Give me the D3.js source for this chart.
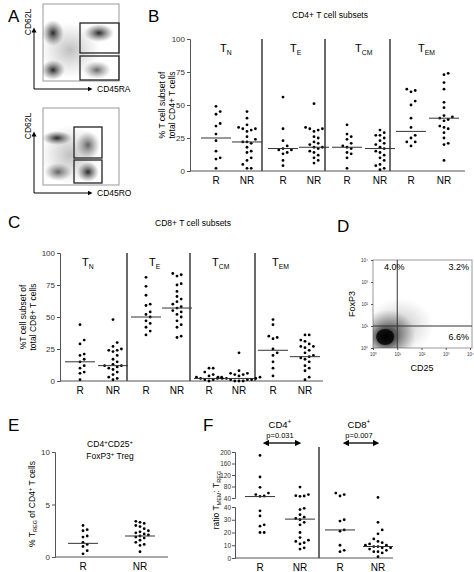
<!DOCTYPE html>
<html><head><meta charset="utf-8">
<script src="https://cdn.jsdelivr.net/npm/d3@7"></script>
<style>
body{margin:0;background:#fff}
svg{font-family:"Liberation Sans",Arial,sans-serif;display:block}
</style></head>
<body><svg id="fig" width="474" height="572"></svg>
<script>
// ---- data ----
let groups = ['R', 'NR'];
let subsets = [['T', 'N'], ['T', 'E'], ['T', 'CM'], ['T', 'EM']];
let pct_ticks = [0, 25, 50, 75, 100];

let cd4_values = [
    [[49,45,43,36,34,28,23,15,10,9,2], [45,40,35,33,32,32,31,30,26,24,22,22,21,18,15,14,10,8,5,2,2]],
    [[56,32,23,19,17,16,16,14,13,8,4], [51,33,32,32,31,30,26,25,22,21,20,18,18,17,15,14,12,10,8,6]],
    [[35,28,26,24,21,19,18,17,14,13,10,2], [31,29,27,27,25,23,21,20,18,17,15,14,12,10,8,5,4,2,1]],
    [[62,61,60,53,50,40,33,27,25,22,22,19], [74,73,67,62,52,48,42,41,40,39,38,34,33,32,29,25,21,20,8]]
];
let cd4_medians = [[25, 22], [17, 18], [18, 17], [30, 40]];

let cd8_values = [
    [[44,32,29,21,20,17,15,12,10,7,6,1], [48,30,27,25,24,24,23,20,17,15,13,12,12,11,10,9,7,5,3,2,1]],
    [[81,74,67,60,59,54,52,50,47,45,42,39,36], [84,83,82,76,75,70,66,64,62,60,58,57,55,54,52,50,47,44,42,35,34]],
    [[10,10,7,5,4,3,3,2,2,1,1,0], [22,8,6,6,5,5,4,3,3,2,2,2,1,1,1,0,0,0]],
    [[48,44,35,34,33,25,22,20,15,10,4], [36,36,32,31,29,27,27,26,24,22,20,19,18,17,15,12,10,8,3,1]]
];
let cd8_medians = [[15, 12], [50, 57], [2, 2], [24, 19]];

let treg_values = [[3.0,2.6,2.5,2.0,1.9,1.4,1.2,1.0,0.6,0.3], [3.4,3.3,3.2,3.0,2.9,2.7,2.5,2.4,2.3,2.2,2.1,2.0,1.9,1.8,1.6,1.4,1.2,1.1,0.5]];
let treg_medians = [1.3, 2.0];
let treg_ticks = [0, 5, 10];

let ratio_values = [
    [[188,113,77,57,52,47,46,37,33,26,25,20,20], [78,52,48,47,46,39,38,34,32,31,30,28,26,20,16,14,13,12,11,8,7]],
    [[57,52,47,30,29,22,21,10,6,5], [42,28,22,19,15,13,12,11,10,10,9,9,8,8,7,6,5,5,4,1]]
];
let ratio_medians = [[45, 30.5], [22, 9]];
let ratio_labels = ['CD4', 'CD8'];
let ratio_p = ['p=0.031', 'p=0.007'];
let ratio_low_ticks = [0, 10, 20, 30, 40];
let ratio_high_ticks = [40, 80, 120, 160, 200];

let facs_percent = ['4.0%', '3.2%', '6.6%'];
let facs_ticks = [0, 1, 2, 3, 4];

// ---- helpers ----
let svg = d3.select('#fig');
let defs = svg.append('defs');

defs.append('marker').attr('id', 'arr').attr('viewBox', '0 0 10 10')
    .attr('refX', 5).attr('refY', 5).attr('markerWidth', 5).attr('markerHeight', 5)
    .attr('orient', 'auto-start-reverse')
    .append('path').attr('d', 'M0,0L10,5L0,10z').attr('fill', '#000');

function letter (x, y, t) {
    svg.append('text').attr('x', x).attr('y', y).attr('font-size', 17).text(t);
}

function swarm (vals, cx, y) {
    // simple deterministic beeswarm, wide spacing like the prism plots
    let placed = [];
    vals.slice().sort((a, b) => a - b).forEach(v => {
        let py = y(v);
        for (let k = 0; k < 40; k++) {
            let off = (k % 2 ? 1 : -1) * Math.ceil(k / 2) * 4.2;
            let px = cx + off;
            if (placed.every(p => Math.abs(p[0] - px) >= 4 || Math.abs(p[1] - py) >= 4)) {
                placed.push([px, py]);
                break;
            }
        }
    });
    return placed;
}

function dots (g, vals, cx, y, med) {
    swarm(vals, cx, y).forEach(p => {
        g.append('circle').attr('cx', p[0]).attr('cy', p[1]).attr('r', 1.4).attr('fill', '#000');
    });
    g.append('line').attr('x1', cx - 15).attr('x2', cx + 15)
        .attr('y1', y(med)).attr('y2', y(med)).attr('stroke', '#333').attr('stroke-width', 1);
}

function sub (sel, base, s, size) {
    let t = sel.append('text').attr('font-size', size);
    t.append('tspan').text(base);
    t.append('tspan').attr('font-size', size * 0.62).attr('dy', 3).text(s);
    return t;
}

function style_axis (g) {
    g.selectAll('path,line').attr('stroke', '#555');
    g.selectAll('text').attr('font-size', 8).attr('fill', '#333');
}

// ---- subsets panels (B, C) ----
function subset_panel (o) {
    let g = svg.append('g');
    let y = d3.scaleLinear().domain([0, 100]).range([o.y0, o.y1]);
    g.append('text').attr('x', o.tx).attr('y', o.ty).attr('text-anchor', 'middle')
        .attr('font-size', 8.5).text(o.title);
    let ya = g.append('g').attr('transform', `translate(${o.x0},0)`)
        .call(d3.axisLeft(y).tickValues(pct_ticks).tickSize(3).tickPadding(2));
    style_axis(ya);
    g.append('line').attr('x1', o.x0).attr('x2', o.x1).attr('y1', o.y0).attr('y2', o.y0).attr('stroke', '#555');
    o.dividers.forEach(d => g.append('line').attr('x1', d).attr('x2', d)
        .attr('y1', o.y1).attr('y2', o.y0).attr('stroke', '#444').attr('stroke-width', 1.6));
    subsets.forEach((s, i) => {
        sub(g, s[0], s[1], 11).attr('x', o.sx[i]).attr('y', o.y1 + 13);
        groups.forEach((gr, j) => {
            let cx = o.cx[i * 2 + j];
            g.append('text').attr('x', cx).attr('y', o.y0 + 13).attr('text-anchor', 'middle')
                .attr('font-size', 10).text(gr);
            dots(g, o.values[i][j], cx, y, o.medians[i][j]);
        });
    });
    let cy = (o.y0 + o.y1) / 2;
    o.ylab.forEach((l, k) => g.append('text')
        .attr('transform', `translate(${o.yx + k * 10},${cy}) rotate(-90)`)
        .attr('text-anchor', 'middle').attr('font-size', 8.5).text(l));
}

letter(148, 22, 'B');
subset_panel({x0: 190, x1: 465, y0: 171, y1: 39, tx: 330, ty: 18, title: 'CD4+ T cell subsets',
    dividers: [262, 325, 390], sx: [220, 290, 355, 418],
    cx: [216, 247, 283, 314, 347, 380, 411, 444],
    values: cd4_values, medians: cd4_medians, yx: 165,
    ylab: ['% T cell subset of', 'total CD4+ T cells']});

letter(8, 228, 'C');
subset_panel({x0: 60, x1: 323, y0: 381, y1: 253, tx: 193, ty: 226, title: 'CD8+ T cell subsets',
    dividers: [127, 190, 255], sx: [82, 149, 212, 272],
    cx: [80, 113, 146, 177, 209, 239, 273, 305],
    values: cd8_values, medians: cd8_medians, yx: 26,
    ylab: ['%T cell subset of', 'total CD8+ T cells']});

// ---- panel A (flow plots) ----
function blob (id, op) {
    let gr = defs.append('radialGradient').attr('id', id);
    gr.append('stop').attr('offset', '0%').attr('stop-color', '#000').attr('stop-opacity', op);
    gr.append('stop').attr('offset', '50%').attr('stop-color', '#222').attr('stop-opacity', op * 0.5);
    gr.append('stop').attr('offset', '100%').attr('stop-color', '#444').attr('stop-opacity', 0);
}
blob('bd', 0.85);
blob('bm', 0.6);
blob('bl', 0.25);

let facs_a = [
    {box: [43, 4, 119, 81], gates: [[80, 23, 119, 53], [80, 56, 119, 80]], ax: 89, lab: 'CD45RA',
     pops: [[53, 33, 11, 13, 'bd'], [53, 70, 12, 10, 'bd'], [99, 33, 15, 9, 'bd'], [97, 70, 14, 9, 'bm'],
            [70, 50, 30, 28, 'bl']]},
    {box: [43, 108, 119, 185], gates: [[74, 127, 102, 158], [74, 160, 102, 183]], ax: 193, lab: 'CD45RO',
     pops: [[57, 138, 15, 7, 'bd'], [58, 172, 14, 9, 'bm'], [88, 145, 12, 14, 'bm'], [88, 172, 11, 10, 'bd'],
            [70, 155, 30, 30, 'bl']]}
];
letter(8, 22, 'A');
facs_a.forEach(f => {
    let g = svg.append('g');
    let b = f.box;
    g.append('rect').attr('x', b[0]).attr('y', b[1]).attr('width', b[2] - b[0]).attr('height', b[3] - b[1])
        .attr('fill', '#fff').attr('stroke', '#999');
    let cp = 'clip' + b[1];
    defs.append('clipPath').attr('id', cp).append('rect').attr('x', b[0]).attr('y', b[1])
        .attr('width', b[2] - b[0]).attr('height', b[3] - b[1]);
    let pg = g.append('g').attr('clip-path', `url(#${cp})`);
    f.pops.forEach(p => pg.append('ellipse').attr('cx', p[0]).attr('cy', p[1]).attr('rx', p[2]).attr('ry', p[3])
        .attr('fill', `url(#${p[4]})`));
    f.gates.forEach(q => g.append('rect').attr('x', q[0]).attr('y', q[1]).attr('width', q[2] - q[0])
        .attr('height', q[3] - q[1]).attr('fill', 'none').attr('stroke', '#222').attr('stroke-width', 1.3));
    g.append('path').attr('d', `M34,${f.ax}V${b[1] + 26}`).attr('stroke', '#000').attr('marker-end', 'url(#arr)');
    g.append('path').attr('d', `M34,${f.ax}H90`).attr('stroke', '#000').attr('marker-end', 'url(#arr)');
    g.append('text').attr('x', 97).attr('y', f.ax + 3).attr('font-size', 8.5).text(f.lab);
    g.append('text').attr('transform', `translate(31,${b[1] + 18}) rotate(-90)`).attr('text-anchor', 'middle')
        .attr('font-size', 8.5).text('CD62L');
});

// ---- panel D ----
letter(337, 232, 'D');
{
    let g = svg.append('g');
    let x = d3.scaleLinear().domain([0, 4]).range([373, 470]);
    let y = d3.scaleLinear().domain([0, 4]).range([348, 260]);
    g.append('rect').attr('x', 373).attr('y', 260).attr('width', 99).attr('height', 88)
        .attr('fill', '#fff').attr('stroke', '#999');
    defs.append('clipPath').attr('id', 'clipd').append('rect').attr('x', 373).attr('y', 260).attr('width', 99).attr('height', 88);
    let pg = g.append('g').attr('clip-path', 'url(#clipd)');
    pg.append('ellipse').attr('cx', x(1.1)).attr('cy', y(1.0)).attr('rx', 34).attr('ry', 28).attr('fill', 'url(#bl)');
    pg.append('ellipse').attr('cx', x(0.6)).attr('cy', y(0.55)).attr('rx', 28).attr('ry', 26).attr('fill', 'url(#bd)');
    pg.append('ellipse').attr('cx', x(0.5)).attr('cy', y(0.5)).attr('rx', 15).attr('ry', 13).attr('fill', 'url(#bd)');
    pg.append('ellipse').attr('cx', x(0.5)).attr('cy', y(0.5)).attr('rx', 9).attr('ry', 8).attr('fill', '#000').attr('opacity', 0.8);
    g.append('line').attr('x1', x(1)).attr('x2', x(1)).attr('y1', 260).attr('y2', 348).attr('stroke', '#333');
    g.append('line').attr('x1', 373).attr('x2', 472).attr('y1', y(1)).attr('y2', y(1)).attr('stroke', '#333');
    let xa = g.append('g').attr('transform', 'translate(0,348)')
        .call(d3.axisBottom(x).tickValues(facs_ticks).tickSize(2).tickFormat(d => '10' + '⁰¹²³⁴'[d]));
    let ya = g.append('g').attr('transform', 'translate(373,0)')
        .call(d3.axisLeft(y).tickValues(facs_ticks).tickSize(2).tickFormat(d => '10' + '⁰¹²³⁴'[d]));
    [xa, ya].forEach(a => { style_axis(a); a.selectAll('text').attr('font-size', 4.5); a.select('.domain').remove(); });
    g.append('text').attr('x', 384).attr('y', 270).attr('font-size', 9).text(facs_percent[0]);
    g.append('text').attr('x', 469).attr('y', 270).attr('text-anchor', 'end').attr('font-size', 9).text(facs_percent[1]);
    g.append('text').attr('x', 469).attr('y', 340).attr('text-anchor', 'end').attr('font-size', 9).text(facs_percent[2]);
    g.append('text').attr('transform', 'translate(355,304) rotate(-90)').attr('text-anchor', 'middle').attr('font-size', 9).text('FoxP3');
    g.append('text').attr('x', 422).attr('y', 371).attr('text-anchor', 'middle').attr('font-size', 9).text('CD25');
}

// ---- panel E ----
letter(8, 431, 'E');
{
    let g = svg.append('g');
    let y = d3.scaleLinear().domain([0, 10]).range([557, 452]);
    let cx = [83, 140];
    let t1 = g.append('text').attr('x', 110).attr('y', 447).attr('text-anchor', 'middle').attr('font-size', 8.5);
    t1.append('tspan').text('CD4');
    t1.append('tspan').attr('dy', -3).attr('font-size', 6).text('+');
    t1.append('tspan').attr('dy', 3).text('CD25');
    t1.append('tspan').attr('dy', -3).attr('font-size', 6).text('+');
    let t2 = g.append('text').attr('x', 110).attr('y', 459).attr('text-anchor', 'middle').attr('font-size', 8.5);
    t2.append('tspan').text('FoxP3');
    t2.append('tspan').attr('dy', -3).attr('font-size', 6).text('+');
    t2.append('tspan').attr('dy', 3).text(' Treg');
    let ya = g.append('g').attr('transform', 'translate(55,0)')
        .call(d3.axisLeft(y).tickValues(treg_ticks).tickSize(3).tickPadding(2));
    style_axis(ya);
    g.append('line').attr('x1', 55).attr('x2', 168).attr('y1', 557).attr('y2', 557).attr('stroke', '#555');
    groups.forEach((gr, j) => {
        g.append('text').attr('x', cx[j]).attr('y', 570).attr('text-anchor', 'middle').attr('font-size', 10).text(gr);
        dots(g, treg_values[j], cx[j], y, treg_medians[j]);
    });
    let yt = g.append('text').attr('transform', 'translate(35,504) rotate(-90)').attr('text-anchor', 'middle').attr('font-size', 8.5);
    yt.append('tspan').text('% T');
    yt.append('tspan').attr('font-size', 5.5).attr('dy', 2).text('REG');
    yt.append('tspan').attr('dy', -2).text(' of CD4');
    yt.append('tspan').attr('font-size', 6).attr('dy', -3).text('+');
    yt.append('tspan').attr('dy', 3).text(' T cells');
}

// ---- panel F ----
letter(203, 431, 'F');
{
    let g = svg.append('g');
    let ylo = d3.scaleLinear().domain([0, 40]).range([558, 507]);
    let yhi = d3.scaleLinear().domain([40, 200]).range([498, 452]);
    let y = v => v <= 40 ? ylo(v) : yhi(v);
    let cx = [[260, 300], [340, 378]];
    let a1 = g.append('g').attr('transform', 'translate(235,0)')
        .call(d3.axisLeft(ylo).tickValues(ratio_low_ticks).tickSize(3).tickPadding(1));
    let a2 = g.append('g').attr('transform', 'translate(235,0)')
        .call(d3.axisLeft(yhi).tickValues(ratio_high_ticks).tickSize(3).tickPadding(1));
    [a1, a2].forEach(a => { style_axis(a); a.selectAll('text').attr('font-size', 6.5); });
    g.append('line').attr('x1', 235).attr('x2', 393).attr('y1', 558).attr('y2', 558).attr('stroke', '#555');
    g.append('line').attr('x1', 319).attr('x2', 319).attr('y1', 447).attr('y2', 558).attr('stroke', '#444').attr('stroke-width', 1.6);
    ratio_labels.forEach((l, i) => {
        let mid = (cx[i][0] + cx[i][1]) / 2;
        let t = g.append('text').attr('x', mid).attr('y', 428).attr('text-anchor', 'middle').attr('font-size', 9.5);
        t.append('tspan').text(l);
        t.append('tspan').attr('dy', -4).attr('font-size', 6.5).text('+');
        g.append('text').attr('x', mid).attr('y', 438).attr('text-anchor', 'middle').attr('font-size', 7.5).text(ratio_p[i]);
        g.append('line').attr('x1', cx[i][0] + 6).attr('x2', cx[i][1] - 2).attr('y1', 443).attr('y2', 443)
            .attr('stroke', '#000').attr('stroke-width', 1.3)
            .attr('marker-start', 'url(#arr)').attr('marker-end', 'url(#arr)');
        groups.forEach((gr, j) => {
            g.append('text').attr('x', cx[i][j]).attr('y', 571).attr('text-anchor', 'middle').attr('font-size', 10).text(gr);
            dots(g, ratio_values[i][j], cx[i][j], y, ratio_medians[i][j]);
        });
    });
    let yt = g.append('text').attr('transform', 'translate(219,500) rotate(-90)').attr('text-anchor', 'middle').attr('font-size', 8.5);
    yt.append('tspan').text('ratio T');
    yt.append('tspan').attr('font-size', 5.5).attr('dy', 2).text('MEM');
    yt.append('tspan').attr('dy', -2).text(': T');
    yt.append('tspan').attr('font-size', 5.5).attr('dy', 2).text('REG');
}
</script></body></html>
